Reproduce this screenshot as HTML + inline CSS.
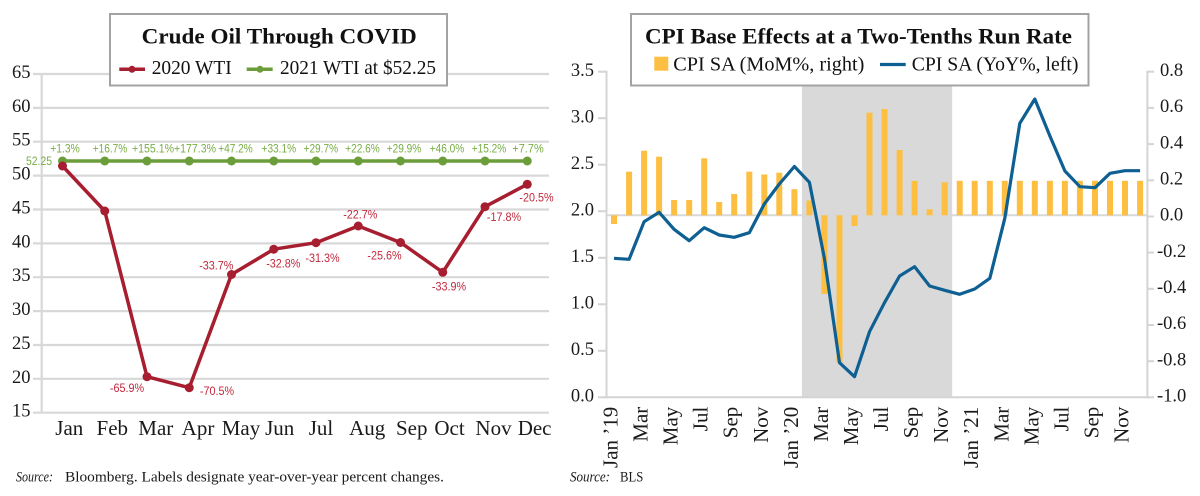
<!DOCTYPE html>
<html><head><meta charset="utf-8"><style>
html,body{margin:0;padding:0;background:#fff;}
svg{display:block;}
.ax{font-family:"Liberation Serif",serif;font-size:18.5px;fill:#1a1a1a;}
.mo{font-family:"Liberation Serif",serif;font-size:21px;fill:#1a1a1a;}
.rl{font-family:"Liberation Sans",sans-serif;font-size:11.5px;fill:#c0283c;}
.gl{font-family:"Liberation Sans",sans-serif;font-size:11.5px;fill:#78ad45;}
.tt{font-family:"Liberation Serif",serif;font-size:22px;font-weight:bold;fill:#111;}
.lg{font-family:"Liberation Serif",serif;font-size:20px;fill:#111;}
.src{font-family:"Liberation Serif",serif;font-size:15px;fill:#1a1a1a;}
</style></head><body>
<svg width="1200" height="496" viewBox="0 0 1200 496" xmlns="http://www.w3.org/2000/svg">
<rect width="1200" height="496" fill="#fff"/>
<!-- LEFT CHART -->
<g stroke="#d8d8d8" stroke-width="2.2">
<line x1="33" y1="74" x2="549" y2="74"/>
<line x1="33" y1="107.9" x2="549" y2="107.9"/>
<line x1="33" y1="141.7" x2="549" y2="141.7"/>
<line x1="33" y1="175.6" x2="549" y2="175.6"/>
<line x1="33" y1="209.5" x2="549" y2="209.5"/>
<line x1="33" y1="243.4" x2="549" y2="243.4"/>
<line x1="33" y1="277.2" x2="549" y2="277.2"/>
<line x1="33" y1="311.1" x2="549" y2="311.1"/>
<line x1="33" y1="345" x2="549" y2="345"/>
<line x1="33" y1="378.8" x2="549" y2="378.8"/>
<line x1="33" y1="412.7" x2="549" y2="412.7"/>
<line x1="41.7" y1="74" x2="41.7" y2="413"/>
</g>
<g class="ax" text-anchor="end">
<text x="30.5" y="78">65</text><text x="30.5" y="111.9">60</text><text x="30.5" y="145.7">55</text>
<text x="30.5" y="179.6">50</text><text x="30.5" y="213.5">45</text><text x="30.5" y="247.4">40</text>
<text x="30.5" y="281.2">35</text><text x="30.5" y="315.1">30</text><text x="30.5" y="349">25</text>
<text x="30.5" y="382.8">20</text><text x="30.5" y="416.7">15</text>
</g>
<g class="mo" text-anchor="middle">
<text x="69.3" y="435">Jan</text><text x="112.3" y="435">Feb</text><text x="155.8" y="435">Mar</text>
<text x="198" y="435">Apr</text><text x="241" y="435">May</text><text x="279.7" y="435">Jun</text>
<text x="321" y="435">Jul</text><text x="367.2" y="435">Aug</text><text x="411.7" y="435">Sep</text>
<text x="449.5" y="435">Oct</text><text x="493.5" y="435">Nov</text><text x="534.6" y="435">Dec</text>
</g>
<!-- green line -->
<line x1="62.5" y1="161" x2="527.25" y2="161" stroke="#6b9e3a" stroke-width="3.5"/>
<g fill="#6b9e3a">
<circle cx="62.5" cy="161" r="4.5"/><circle cx="104.75" cy="161" r="4.5"/><circle cx="147" cy="161" r="4.5"/>
<circle cx="189.25" cy="161" r="4.5"/><circle cx="231.5" cy="161" r="4.5"/><circle cx="273.75" cy="161" r="4.5"/>
<circle cx="316" cy="161" r="4.5"/><circle cx="358.25" cy="161" r="4.5"/><circle cx="400.5" cy="161" r="4.5"/>
<circle cx="442.75" cy="161" r="4.5"/><circle cx="485" cy="161" r="4.5"/><circle cx="527.25" cy="161" r="4.5"/>
</g>
<g class="gl" text-anchor="middle">
<text x="65" y="152.3" textLength="29.5" lengthAdjust="spacingAndGlyphs">+1.3%</text>
<text x="110" y="152.3" textLength="34.5" lengthAdjust="spacingAndGlyphs">+16.7%</text>
<text x="153" y="152.3" textLength="42" lengthAdjust="spacingAndGlyphs">+155.1%</text>
<text x="195" y="152.3" textLength="42" lengthAdjust="spacingAndGlyphs">+177.3%</text>
<text x="235.5" y="152.3" textLength="34.5" lengthAdjust="spacingAndGlyphs">+47.2%</text>
<text x="278.8" y="152.3" textLength="34.5" lengthAdjust="spacingAndGlyphs">+33.1%</text>
<text x="320.8" y="152.3" textLength="34.5" lengthAdjust="spacingAndGlyphs">+29.7%</text>
<text x="362.5" y="152.3" textLength="34.5" lengthAdjust="spacingAndGlyphs">+22.6%</text>
<text x="404" y="152.3" textLength="34.5" lengthAdjust="spacingAndGlyphs">+29.9%</text>
<text x="447" y="152.3" textLength="34.5" lengthAdjust="spacingAndGlyphs">+46.0%</text>
<text x="489" y="152.3" textLength="34.5" lengthAdjust="spacingAndGlyphs">+15.2%</text>
<text x="528" y="152.3" textLength="31.4" lengthAdjust="spacingAndGlyphs">+7.7%</text>
</g>
<text class="gl" x="52" y="165" text-anchor="end" textLength="26" lengthAdjust="spacingAndGlyphs">52.25</text>
<!-- red line -->
<polyline fill="none" stroke="#a61e2f" stroke-width="3.5" stroke-linejoin="round" points="62.5,166 104.75,211 147,376.7 189.25,387.7 231.5,274.5 273.75,249.2 316,242.7 358.25,226 400.5,242.5 442.75,272.3 485,206.7 527.25,184.3"/>
<g fill="#a61e2f">
<circle cx="62.5" cy="166" r="4.5"/><circle cx="104.75" cy="211" r="4.5"/><circle cx="147" cy="376.7" r="4.5"/>
<circle cx="189.25" cy="387.7" r="4.5"/><circle cx="231.5" cy="274.5" r="4.5"/><circle cx="273.75" cy="249.2" r="4.5"/>
<circle cx="316" cy="242.7" r="4.5"/><circle cx="358.25" cy="226" r="4.5"/><circle cx="400.5" cy="242.5" r="4.5"/>
<circle cx="442.75" cy="272.3" r="4.5"/><circle cx="485" cy="206.7" r="4.5"/><circle cx="527.25" cy="184.3" r="4.5"/>
</g>
<g class="rl" text-anchor="middle">
<text x="127" y="392" textLength="34.2" lengthAdjust="spacingAndGlyphs">-65.9%</text>
<text x="217" y="395" textLength="34.2" lengthAdjust="spacingAndGlyphs">-70.5%</text>
<text x="216.3" y="269.3" textLength="34.2" lengthAdjust="spacingAndGlyphs">-33.7%</text>
<text x="283.3" y="267.5" textLength="34.2" lengthAdjust="spacingAndGlyphs">-32.8%</text>
<text x="322.5" y="262" textLength="34.2" lengthAdjust="spacingAndGlyphs">-31.3%</text>
<text x="360.3" y="218.5" textLength="34.2" lengthAdjust="spacingAndGlyphs">-22.7%</text>
<text x="384.5" y="259.5" textLength="34.2" lengthAdjust="spacingAndGlyphs">-25.6%</text>
<text x="449" y="290.5" textLength="34.2" lengthAdjust="spacingAndGlyphs">-33.9%</text>
<text x="504" y="221" textLength="34.2" lengthAdjust="spacingAndGlyphs">-17.8%</text>
<text x="536.5" y="201.5" textLength="34.2" lengthAdjust="spacingAndGlyphs">-20.5%</text>
</g>
<!-- left title box -->
<rect x="110" y="14" width="337" height="71.5" fill="#fff" stroke="#a3a3a3" stroke-width="2"/>
<text class="tt" x="141.7" y="43.3" textLength="275" lengthAdjust="spacingAndGlyphs">Crude Oil Through COVID</text>
<line x1="119.3" y1="69.3" x2="145" y2="69.3" stroke="#a61e2f" stroke-width="3.5"/>
<circle cx="132" cy="69.3" r="3.5" fill="#a61e2f"/>
<text class="lg" x="151.7" y="74" textLength="80" lengthAdjust="spacingAndGlyphs">2020 WTI</text>
<line x1="246.7" y1="69.3" x2="272.7" y2="69.3" stroke="#6b9e3a" stroke-width="3.5"/>
<circle cx="260" cy="69.3" r="3.5" fill="#6b9e3a"/>
<text class="lg" x="280" y="74" textLength="156" lengthAdjust="spacingAndGlyphs">2021 WTI at $52.25</text>
<!-- left source -->
<text class="src" x="16" y="481.5" font-style="italic" textLength="37" lengthAdjust="spacingAndGlyphs">Source:</text>
<text class="src" x="65" y="481.5" textLength="379" lengthAdjust="spacingAndGlyphs">Bloomberg. Labels designate year-over-year percent changes.</text>

<!-- RIGHT CHART -->
<rect x="801.9" y="71.7" width="150.3" height="325.6" fill="#d9d9d9"/>
<line x1="606.5" y1="215.3" x2="1147.4" y2="215.3" stroke="#d8d8d8" stroke-width="2"/>
<g fill="#fcbf42">
<rect x="611" y="215.3" width="6" height="8.7"/>
<rect x="626.1" y="171.7" width="6" height="43.6"/>
<rect x="641.1" y="150.7" width="6" height="64.6"/>
<rect x="656.1" y="156.7" width="6" height="58.6"/>
<rect x="671.1" y="200" width="6" height="15.3"/>
<rect x="686.2" y="200" width="6" height="15.3"/>
<rect x="701.2" y="158.3" width="6" height="57"/>
<rect x="716.2" y="202" width="6" height="13.3"/>
<rect x="731.2" y="194" width="6" height="21.3"/>
<rect x="746.3" y="171.7" width="6" height="43.6"/>
<rect x="761.3" y="174.5" width="6" height="40.8"/>
<rect x="776.3" y="172.7" width="6" height="42.6"/>
<rect x="791.4" y="189.2" width="6" height="26.1"/>
<rect x="806.4" y="200.5" width="6" height="14.8"/>
<rect x="821.4" y="215.3" width="6" height="78.7"/>
<rect x="836.5" y="215.3" width="6" height="147.2"/>
<rect x="851.5" y="215.3" width="6" height="10.7"/>
<rect x="866.5" y="112.7" width="6" height="102.6"/>
<rect x="881.5" y="109" width="6" height="106.3"/>
<rect x="896.6" y="150" width="6" height="65.3"/>
<rect x="911.6" y="180.8" width="6" height="34.5"/>
<rect x="926.6" y="209.3" width="6" height="6"/>
<rect x="941.7" y="182.3" width="6" height="33"/>
<rect x="956.7" y="180.8" width="6" height="34.5"/>
<rect x="971.7" y="180.8" width="6" height="34.5"/>
<rect x="986.8" y="180.8" width="6" height="34.5"/>
<rect x="1001.8" y="180.8" width="6" height="34.5"/>
<rect x="1016.8" y="180.8" width="6" height="34.5"/>
<rect x="1031.8" y="180.8" width="6" height="34.5"/>
<rect x="1046.9" y="180.8" width="6" height="34.5"/>
<rect x="1061.9" y="180.8" width="6" height="34.5"/>
<rect x="1076.9" y="180.8" width="6" height="34.5"/>
<rect x="1092" y="180.8" width="6" height="34.5"/>
<rect x="1107" y="180.8" width="6" height="34.5"/>
<rect x="1122" y="180.8" width="6" height="34.5"/>
<rect x="1137.1" y="180.8" width="6" height="34.5"/>
</g>
<polyline fill="none" stroke="#0e5f92" stroke-width="3.2" stroke-linejoin="round" points="614,258.3 629.1,259.3 644.1,221.7 659.1,212.3 674.1,229.3 689.2,240.7 704.2,227.7 719.2,235 734.2,237.3 749.3,232.7 764.3,204 779.3,184 794.4,166.5 809.4,182.3 824.4,258.3 839.5,362.7 854.5,376.7 869.5,331.7 884.5,302.7 899.6,276 914.6,266.7 929.6,286 944.7,290.3 959.7,294.3 974.7,289 989.8,278.3 1004.8,218.3 1019.8,123.3 1034.8,99 1049.9,136 1064.9,171 1079.9,186.7 1095,187.7 1110,173.3 1125,170.7 1140.1,170.7"/>
<!-- axes -->
<g stroke="#d4d4d4" stroke-width="2">
<line x1="606.5" y1="70.7" x2="606.5" y2="398.3"/>
<line x1="1147.4" y1="70.7" x2="1147.4" y2="398.3"/>
<line x1="605.5" y1="397.3" x2="1148.4" y2="397.3"/>
<line x1="598" y1="71.7" x2="606.5" y2="71.7"/><line x1="598" y1="118.2" x2="606.5" y2="118.2"/>
<line x1="598" y1="164.7" x2="606.5" y2="164.7"/><line x1="598" y1="211.2" x2="606.5" y2="211.2"/>
<line x1="598" y1="257.8" x2="606.5" y2="257.8"/><line x1="598" y1="304.3" x2="606.5" y2="304.3"/>
<line x1="598" y1="350.8" x2="606.5" y2="350.8"/><line x1="598" y1="397.3" x2="606.5" y2="397.3"/>
<line x1="1147.4" y1="71.7" x2="1154" y2="71.7"/><line x1="1147.4" y1="107.9" x2="1154" y2="107.9"/>
<line x1="1147.4" y1="144.1" x2="1154" y2="144.1"/><line x1="1147.4" y1="180.3" x2="1154" y2="180.3"/>
<line x1="1147.4" y1="216.5" x2="1154" y2="216.5"/><line x1="1147.4" y1="252.6" x2="1154" y2="252.6"/>
<line x1="1147.4" y1="288.8" x2="1154" y2="288.8"/><line x1="1147.4" y1="325" x2="1154" y2="325"/>
<line x1="1147.4" y1="361.2" x2="1154" y2="361.2"/><line x1="1147.4" y1="397.3" x2="1154" y2="397.3"/>
</g>
<g class="ax" text-anchor="end">
<text x="594" y="75.9">3.5</text><text x="594" y="122.4">3.0</text><text x="594" y="168.9">2.5</text>
<text x="594" y="215.4">2.0</text><text x="594" y="262">1.5</text><text x="594" y="308.5">1.0</text>
<text x="594" y="355">0.5</text><text x="594" y="401.5">0.0</text>
</g>
<g class="ax">
<text x="1160" y="75.9">0.8</text><text x="1160" y="112.1">0.6</text><text x="1160" y="148.3">0.4</text>
<text x="1160" y="184.5">0.2</text><text x="1160" y="220.7">0.0</text><text x="1157" y="256.8">-0.2</text>
<text x="1157" y="293">-0.4</text><text x="1157" y="329.2">-0.6</text><text x="1157" y="365.4">-0.8</text>
<text x="1157" y="401.5">-1.0</text>
</g>
<g class="mo" text-anchor="end">
<text transform="translate(617.5,406.7) rotate(-90)">Jan ’19</text>
<text transform="translate(647.6,406.7) rotate(-90)">Mar</text>
<text transform="translate(677.6,406.7) rotate(-90)">May</text>
<text transform="translate(707.7,406.7) rotate(-90)">Jul</text>
<text transform="translate(737.7,406.7) rotate(-90)">Sep</text>
<text transform="translate(767.8,406.7) rotate(-90)">Nov</text>
<text transform="translate(797.9,406.7) rotate(-90)">Jan ’20</text>
<text transform="translate(827.9,406.7) rotate(-90)">Mar</text>
<text transform="translate(858,406.7) rotate(-90)">May</text>
<text transform="translate(888,406.7) rotate(-90)">Jul</text>
<text transform="translate(918.1,406.7) rotate(-90)">Sep</text>
<text transform="translate(948.2,406.7) rotate(-90)">Nov</text>
<text transform="translate(978.2,406.7) rotate(-90)">Jan ’21</text>
<text transform="translate(1008.3,406.7) rotate(-90)">Mar</text>
<text transform="translate(1038.3,406.7) rotate(-90)">May</text>
<text transform="translate(1068.4,406.7) rotate(-90)">Jul</text>
<text transform="translate(1098.5,406.7) rotate(-90)">Sep</text>
<text transform="translate(1128.5,406.7) rotate(-90)">Nov</text>
</g>
<!-- right title box -->
<rect x="631" y="14" width="457.5" height="71.5" fill="#fff" stroke="#a3a3a3" stroke-width="2"/>
<text class="tt" x="645" y="43.3" textLength="427" lengthAdjust="spacingAndGlyphs">CPI Base Effects at a Two-Tenths Run Rate</text>
<rect x="654.3" y="56.7" width="14" height="14" fill="#fcbf42"/>
<text class="lg" x="673.3" y="70.5" textLength="191" lengthAdjust="spacingAndGlyphs">CPI SA (MoM%, right)</text>
<line x1="880" y1="64.5" x2="905.7" y2="64.5" stroke="#0e5f92" stroke-width="3.2"/>
<text class="lg" x="911.7" y="70.5" textLength="166.7" lengthAdjust="spacingAndGlyphs">CPI SA (YoY%, left)</text>
<!-- right source -->
<text class="src" x="570" y="481.5" font-style="italic" textLength="40" lengthAdjust="spacingAndGlyphs">Source:</text>
<text class="src" x="620" y="481.5" textLength="23.3" lengthAdjust="spacingAndGlyphs">BLS</text>
</svg>
</body></html>
